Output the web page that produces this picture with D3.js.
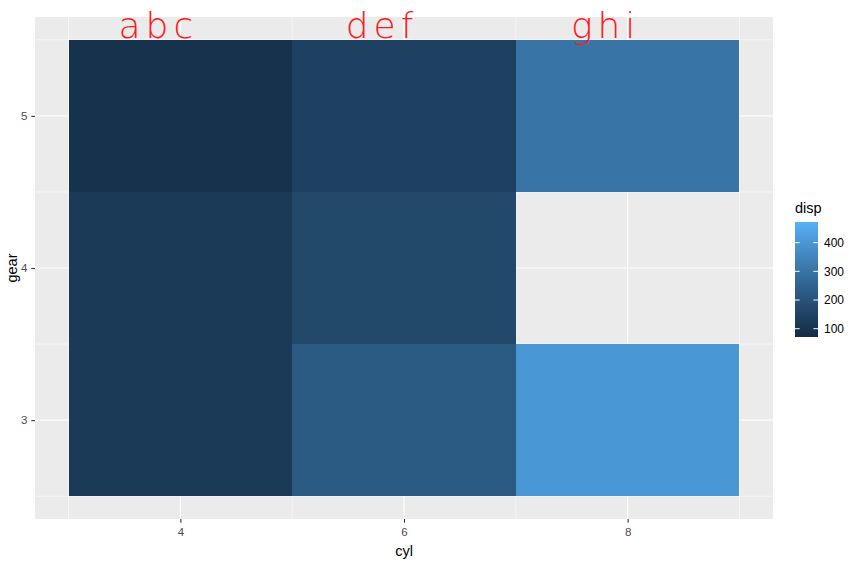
<!DOCTYPE html>
<html>
  <head>
    <meta charset="utf-8">
    <script src="https://d3js.org/d3.v7.min.js"></script>
    <style>
      body { margin: 0px; background: #ffffff; }
      .tick text { fill: #4D4D4D; font-size: 11.5px; font-family: 'Liberation Sans', Arial, sans-serif; }
      .axis-title, .legend-title { fill: #000000; font-size: 14.5px; font-family: 'Liberation Sans', Arial, sans-serif; }
      .legend-label { fill: #000000; font-size: 12px; font-family: 'Liberation Sans', Arial, sans-serif; }
      .scribble { fill: #ff1a1a; font-family: 'DejaVu Sans', sans-serif; font-weight: 300; }
    </style>
  </head>
  <body>
    <script>
      // visible tile per cyl/gear cell (disp)
      const cylValues = [4, 6, 8, 4, 6, 8, 4, 6];
      const gearValues = [5, 5, 5, 4, 4, 3, 3, 3];
      const dispValues = [95.1, 145, 301, 121, 167.6, 400, 120.1, 225];
      const xTicks = [4, 6, 8];
      const yTicks = [3, 4, 5];
      const legendTicks = [100, 200, 300, 400];
      const dispRange = [71.1, 472];
      const notes = ['abc', 'def', 'ghi'];

      const tiles = cylValues.map((c, i) => ({ cyl: c, gear: gearValues[i], disp: dispValues[i] }));

      const width = 853, height = 565;
      const panel = { left: 35, right: 773, top: 17, bottom: 519 };

      const svg = d3.select('body').append('svg')
        .attr('width', width)
        .attr('height', height);

      const xScale = d3.scaleLinear().domain([2.7, 9.3]).range([panel.left, panel.right]);
      const yScale = d3.scaleLinear().domain([2.35, 5.65]).range([panel.bottom, panel.top]);
      const colorScale = d3.scaleLinear().domain(dispRange)
        .range(['#132B43', '#56B1F7'])
        .interpolate(d3.interpolateLab);

      // panel background + grid
      svg.append('rect')
        .attr('x', panel.left).attr('y', panel.top)
        .attr('width', panel.right - panel.left)
        .attr('height', panel.bottom - panel.top)
        .attr('fill', '#EBEBEB');

      const grid = svg.append('g');
      [3, 5, 7, 9].forEach(v => grid.append('line')
        .attr('x1', xScale(v)).attr('x2', xScale(v))
        .attr('y1', panel.top).attr('y2', panel.bottom)
        .attr('stroke', '#fff').attr('stroke-width', 0.55));
      [2.5, 3.5, 4.5, 5.5].forEach(v => grid.append('line')
        .attr('y1', yScale(v)).attr('y2', yScale(v))
        .attr('x1', panel.left).attr('x2', panel.right)
        .attr('stroke', '#fff').attr('stroke-width', 0.55));
      xTicks.forEach(v => grid.append('line')
        .attr('x1', xScale(v)).attr('x2', xScale(v))
        .attr('y1', panel.top).attr('y2', panel.bottom)
        .attr('stroke', '#fff').attr('stroke-width', 1.1));
      yTicks.forEach(v => grid.append('line')
        .attr('y1', yScale(v)).attr('y2', yScale(v))
        .attr('x1', panel.left).attr('x2', panel.right)
        .attr('stroke', '#fff').attr('stroke-width', 1.1));

      // tiles
      svg.append('g').selectAll('rect').data(tiles)
        .enter().append('rect')
          .attr('x', d => xScale(d.cyl - 1))
          .attr('y', d => yScale(d.gear + 0.5))
          .attr('width', d => xScale(d.cyl + 1) - xScale(d.cyl - 1))
          .attr('height', d => yScale(d.gear - 0.5) - yScale(d.gear + 0.5))
          .attr('shape-rendering', 'crispEdges')
          .attr('fill', d => colorScale(d.disp));

      // axes
      const xAxisG = svg.append('g')
        .attr('transform', `translate(0,${panel.bottom})`)
        .call(d3.axisBottom(xScale).tickValues(xTicks).tickFormat(d3.format('d')).tickSize(3.7).tickPadding(5));
      const yAxisG = svg.append('g')
        .attr('transform', `translate(${panel.left},0)`)
        .call(d3.axisLeft(yScale).tickValues(yTicks).tickFormat(d3.format('d')).tickSize(3.7).tickPadding(4));
      [xAxisG, yAxisG].forEach(a => {
        a.select('.domain').remove();
        a.selectAll('.tick line').attr('stroke', '#333333').attr('stroke-width', 1.1);
        a.attr('font-size', null).attr('font-family', null);
      });

      svg.append('text')
        .attr('class', 'axis-title')
        .attr('x', (panel.left + panel.right) / 2)
        .attr('y', 556)
        .attr('text-anchor', 'middle')
        .text('cyl');

      svg.append('text')
        .attr('class', 'axis-title')
        .attr('transform', `translate(17,${(panel.top + panel.bottom) / 2}) rotate(-90)`)
        .attr('text-anchor', 'middle')
        .text('gear');

      // colour bar legend
      const bar = { x: 795, w: 23, top: 222, bottom: 337 };
      const legendScale = d3.scaleLinear().domain(dispRange).range([bar.bottom, bar.top]);
      const defs = svg.append('defs');
      const grad = defs.append('linearGradient')
        .attr('id', 'dispGrad')
        .attr('x1', 0).attr('y1', 1).attr('x2', 0).attr('y2', 0);
      d3.range(0, 1.0001, 0.1).forEach(t => grad.append('stop')
        .attr('offset', t)
        .attr('stop-color', colorScale(dispRange[0] + t * (dispRange[1] - dispRange[0]))));

      const legend = svg.append('g');
      legend.append('text')
        .attr('class', 'legend-title')
        .attr('x', bar.x)
        .attr('y', 213)
        .text('disp');
      legend.append('rect')
        .attr('x', bar.x).attr('y', bar.top)
        .attr('width', bar.w).attr('height', bar.bottom - bar.top)
        .attr('fill', 'url(#dispGrad)');
      legend.selectAll('.tl').data(legendTicks).enter().append('line')
        .attr('x1', bar.x).attr('x2', bar.x + 4.6)
        .attr('y1', d => legendScale(d)).attr('y2', d => legendScale(d))
        .attr('stroke', '#fff').attr('stroke-width', 1);
      legend.selectAll('.tr').data(legendTicks).enter().append('line')
        .attr('x1', bar.x + bar.w - 4.6).attr('x2', bar.x + bar.w)
        .attr('y1', d => legendScale(d)).attr('y2', d => legendScale(d))
        .attr('stroke', '#fff').attr('stroke-width', 1);
      legend.selectAll('.legend-label').data(legendTicks).enter().append('text')
        .attr('class', 'legend-label')
        .attr('x', bar.x + bar.w + 6)
        .attr('y', d => legendScale(d))
        .attr('dy', '0.35em')
        .text(d => d);

      // red hand-written notes above each column
      svg.append('g').selectAll('text').data(notes)
        .enter().append('text')
          .attr('class', 'scribble')
          .attr('x', (d, i) => xScale(xTicks[i]) - 22)
          .attr('y', 38)
          .attr('font-size', 36)
          .attr('letter-spacing', 5)
          .attr('text-anchor', 'middle')
          .text(d => d);
    </script>
  </body>
</html>
